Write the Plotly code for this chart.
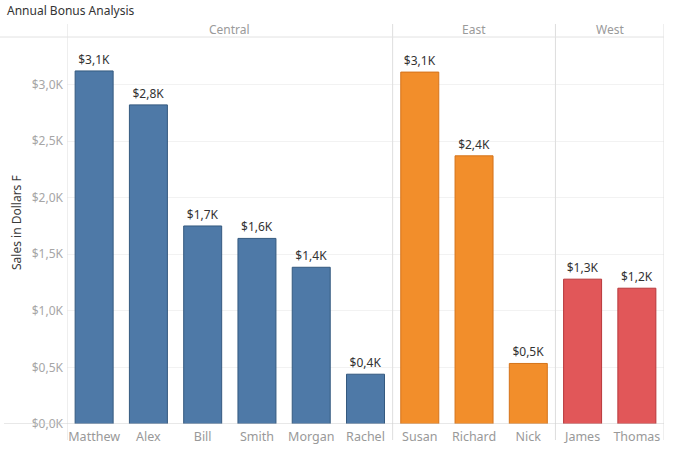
import plotly.graph_objects as go

# ---- data ----
names = ["Matthew", "Alex", "Bill", "Smith", "Morgan", "Rachel",
         "Susan", "Richard", "Nick", "James", "Thomas"]
regions = ["Central"] * 6 + ["East"] * 3 + ["West"] * 2
sales = [3120, 2820, 1750, 1640, 1385, 440, 3110, 2370, 535, 1280, 1200]
bar_labels = ["$3,1K", "$2,8K", "$1,7K", "$1,6K", "$1,4K", "$0,4K",
              "$3,1K", "$2,4K", "$0,5K", "$1,3K", "$1,2K"]
region_names = ["Central", "East", "West"]
y_tickvals = [0, 500, 1000, 1500, 2000, 2500, 3000]
y_ticktext = ["$0,0K", "$0,5K", "$1,0K", "$1,5K", "$2,0K", "$2,5K", "$3,0K"]

# ---- style ----
fill = {"Central": "#4e79a7", "East": "#f28e2b", "West": "#e15759"}
edge = {"Central": "#34597f", "East": "#d5731a", "West": "#b8383b"}
FONT = "Noto Sans"

W, H = 680, 450
L, R, T, B = 67, 16, 37, 26
pw, ph = W - L - R, H - T - B

def px_x(px):
    return (px - L) / pw

def px_y(py):
    return (H - B - py) / ph

fig = go.Figure()
x_idx = list(range(len(names)))
fig.add_trace(go.Bar(
    x=x_idx, y=sales, width=0.7,
    marker=dict(color=[fill[r] for r in regions],
                line=dict(color=[edge[r] for r in regions], width=1)),
    text=bar_labels, textposition="outside", cliponaxis=False,
    textfont=dict(family=FONT, size=12, color="#333333"),
    hoverinfo="skip",
))

shapes = []
# vertical panel lines
for xv in [-0.5, 5.5, 8.5, 10.5]:
    shapes.append(dict(type="line", xref="x", yref="paper",
                       x0=xv, x1=xv, y0=px_y(440), y1=px_y(24),
                       line=dict(color="#dedede", width=1)))
# header bottom line
shapes.append(dict(type="line", xref="paper", yref="paper",
                   x0=px_x(0), x1=1.0, y0=1.0, y1=1.0,
                   line=dict(color="#e2e2e2", width=1)))
# baseline
shapes.append(dict(type="line", xref="paper", yref="y",
                   x0=px_x(4), x1=1.0, y0=0, y1=0,
                   line=dict(color="#d0d0d0", width=1)))

annotations = []
# region headers
starts = {}
for i, r in enumerate(regions):
    starts.setdefault(r, []).append(i)
for r in region_names:
    idx = starts[r]
    cx = (idx[0] - 0.5 + idx[-1] + 0.5) / 2
    annotations.append(dict(x=cx, xref="x", y=px_y(30), yref="paper",
                            text=r, showarrow=False, xanchor="center", yanchor="middle",
                            font=dict(family=FONT, size=12, color="#9a9a9a")))
# title
annotations.append(dict(x=px_x(5), xref="paper", y=px_y(11), yref="paper",
                        text="Annual Bonus Analysis", showarrow=False,
                        xanchor="left", yanchor="middle",
                        font=dict(family=FONT, size=12, color="#333333")))
# y axis title
annotations.append(dict(x=px_x(16), xref="paper", y=px_y(223), yref="paper",
                        text="Sales in Dollars F", showarrow=False, textangle=-90,
                        xanchor="center", yanchor="middle",
                        font=dict(family=FONT, size=12, color="#3a3a3a")))

fig.update_layout(
    width=W, height=H,
    margin=dict(l=L, r=R, t=T, b=B, autoexpand=False),
    paper_bgcolor="white", plot_bgcolor="white",
    showlegend=False,
    shapes=shapes, annotations=annotations,
    font=dict(family=FONT),
    xaxis=dict(range=[-0.5, 10.5], tickmode="array", tickvals=x_idx, ticktext=names,
               showgrid=False, zeroline=False, showline=False, ticks="",
               automargin=False, ticklabelstandoff=3,
               tickfont=dict(family=FONT, size=12.5, color="#999999"),
               fixedrange=True),
    yaxis=dict(range=[0, 3420], tickmode="array", tickvals=y_tickvals, ticktext=y_ticktext,
               showgrid=True, gridcolor="#f2f2f2", gridwidth=1,
               zeroline=False, showline=False, ticks="",
               automargin=False, ticklabelstandoff=3,
               tickfont=dict(family=FONT, size=12, color="#a6a6a6"),
               fixedrange=True),
)

fig.write_html("out.html",
               config={"displayModeBar": False},
               post_script="document.body.style.margin='0';document.body.style.padding='0';")
